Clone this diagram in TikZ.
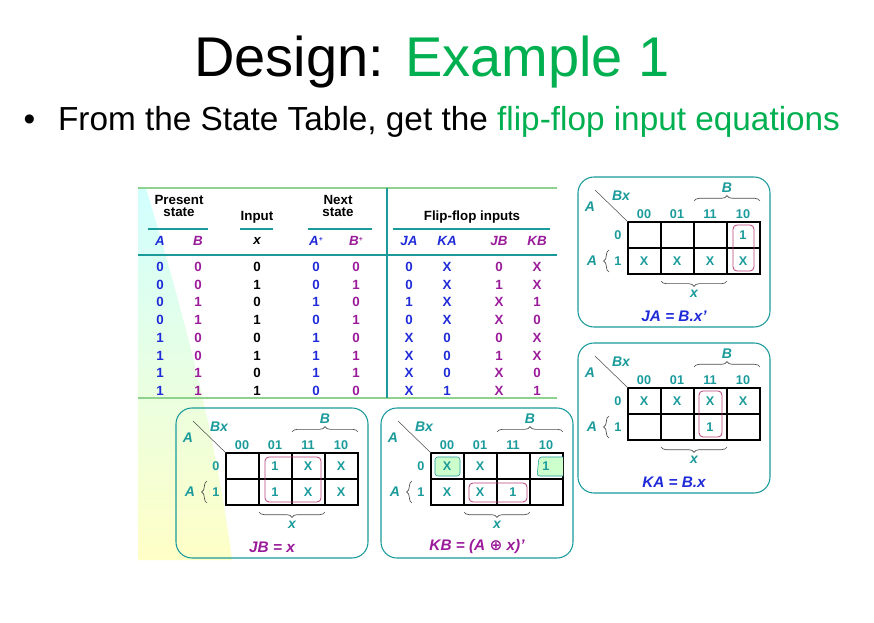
\documentclass[tikz,border=0pt]{standalone}
\usepackage{fontspec}
\setmainfont{Liberation Sans}
\newfontfamily\symfont{DejaVu Sans}
\usetikzlibrary{decorations.pathreplacing,positioning}
\definecolor{tealk}{HTML}{1A9A9A}
\definecolor{bluek}{HTML}{1F2AD8}
\definecolor{purk}{HTML}{9A1A9A}
\definecolor{loopk}{HTML}{B8407A}
\definecolor{greent}{HTML}{00B050}
\definecolor{lineg}{HTML}{8FD18F}
\tikzset{
  tb/.style={font=\fontsize{10}{11}\selectfont\bfseries, inner sep=0pt},
  km/.style={font=\fontsize{9.5}{11}\selectfont\bfseries, text=tealk, inner sep=0pt},
  kv/.style={km, font=\fontsize{10.5}{12}\selectfont\bfseries\itshape},
  kloop/.style={draw=loopk, rounded corners=3pt, line width=0.6pt},
  brc/.style={decorate, decoration={brace, amplitude=4pt}, draw=black!70, line width=0.5pt}
}
% frame, grid and labels of one K-map, in local coordinates
\newcommand\kmapframe{%
  \draw[tealk, line width=0.8pt, rounded corners=12pt] (0,0) rectangle (192,150);
  \draw[line width=0.9pt] (50,45) rectangle (182,97) (50,71) -- (182,71);
  \foreach \cx in {83,116,149} \draw[line width=0.9pt] (\cx,45) -- (\cx,97);
  \draw[black!70] (17,13) -- (50,45);
  \node[kv] at (43,19) {Bx};
  \node[kv] at (12,30) {A};
  \foreach \cx/\lb in {66/00,99/01,132/11,165/10} \node[km] at (\cx,37) {\lb};
  \node[km] at (40,58) {0};
  \node[km] at (40,84) {1};
  \draw[brc] (31,95) -- (31,73);
  \node[kv] at (14,84) {A};
  \draw[brc] (116,24) -- (182,24);
  \node[kv] at (149,11) {B};
  \draw[brc] (149,104) -- (83,104);
  \node[kv] at (116,117) {x};
}
\begin{document}
\begin{tikzpicture}[x=0.75pt,y=-0.75pt]
  \useasboundingbox (0,0) rectangle (874,623);
  % title
  \node (title) at (432,62) {\fontsize{42}{46}\selectfont Design: \textcolor{greent}{Example 1}};
  \node[anchor=west] (bul) at (19,122) {\fontsize{25}{28}\selectfont\textbullet\hspace{17pt}From the State Table, get the \textcolor{greent}{flip-flop input equations}};
  % background tint
  \shade[top color=cyan!18, bottom color=yellow!22] (138,188) -- (146,188) .. controls (185,320) and (215,430) .. (232,560) -- (138,560) -- cycle;
  % state table
  \draw[lineg, line width=1.2pt] (138,188) -- (557,188);
  \draw[lineg, line width=1.2pt] (138,398) -- (557,398);
  \draw[tealk, line width=1pt] (387,188) -- (387,398);
  \draw[tealk, line width=1pt] (138,255) -- (557,255);
  \foreach \xa/\xb in {148/208,240/273,308/372,393/550} \draw[tealk, line width=1pt] (\xa,229) -- (\xb,229);
  \node[tb] (hps) at (179,208) {\begin{tabular}{@{}c@{}}Present\\[-2pt]state\end{tabular}};
  \node[tb] (hin) at (257,217) {Input};
  \node[tb] (hns) at (338,208) {\begin{tabular}{@{}c@{}}Next\\[-2pt]state\end{tabular}};
  \node[tb] (hff) at (472,217) {Flip-flop inputs};
  \foreach \cx/\cl/\lb in {160/bluek/A,198/purk/B,257/black/x,316/bluek/A\raisebox{3pt}{\tiny+},356/purk/B\raisebox{3pt}{\tiny+},409/bluek/JA,447/bluek/KA,499/purk/JB,537/purk/KB}
    \node[tb, text=\cl, font=\fontsize{10}{11}\selectfont\bfseries\itshape] at (\cx,241) {\lb};
  \foreach \r/\a/\b/\x/\ap/\bp/\ja/\ka/\jb/\kb in {
      0/0/0/0/0/0/0/X/0/X, 1/0/0/1/0/1/0/X/1/X, 2/0/1/0/1/0/1/X/X/1, 3/0/1/1/0/1/0/X/X/0,
      4/1/0/0/1/0/X/0/0/X, 5/1/0/1/1/1/X/0/1/X, 6/1/1/0/1/1/X/0/X/0, 7/1/1/1/0/0/X/1/X/1} {
    \pgfmathsetmacro\ry{267+17.7*\r}
    \node[tb, text=bluek] at (160,\ry) {\a};
    \node[tb, text=purk] at (198,\ry) {\b};
    \node[tb] at (257,\ry) {\x};
    \node[tb, text=bluek] at (316,\ry) {\ap};
    \node[tb, text=purk] at (356,\ry) {\bp};
    \node[tb, text=bluek] at (409,\ry) {\ja};
    \node[tb, text=bluek] at (447,\ry) {\ka};
    \node[tb, text=purk] at (499,\ry) {\jb};
    \node[tb, text=purk] at (537,\ry) {\kb};
  }
  % JA map
  \begin{scope}[shift={(578,177)}]
    \kmapframe
    \draw[kloop] (155,48) rectangle (176,94);
    \foreach \c/\r/\v in {3/0/1,0/1/X,1/1/X,2/1/X,3/1/X} \node[km] at (66+33*\c,58+26*\r) {\v};
    \node[km, text=bluek, font=\fontsize{11.5}{13}\selectfont\bfseries\itshape] (eqja) at (96,139) {JA = B.x'};
  \end{scope}
  % KA map
  \begin{scope}[shift={(578,343)}]
    \kmapframe
    \draw[kloop] (121,48) rectangle (144,94);
    \foreach \c/\r/\v in {0/0/X,1/0/X,2/0/X,3/0/X,2/1/1} \node[km] at (66+33*\c,58+26*\r) {\v};
    \node[km, text=bluek, font=\fontsize{11.5}{13}\selectfont\bfseries\itshape] (eqka) at (96,139) {KA = B.x};
  \end{scope}
  % JB map
  \begin{scope}[shift={(176,408)}]
    \kmapframe
    \draw[kloop] (89,49) rectangle (145,94);
    \foreach \c/\r/\v in {1/0/1,2/0/X,3/0/X,1/1/1,2/1/X,3/1/X} \node[km] at (66+33*\c,58+26*\r) {\v};
    \node[km, text=purk, font=\fontsize{11.5}{13}\selectfont\bfseries\itshape] (eqjb) at (96,139) {JB = x};
  \end{scope}
  % KB map
  \begin{scope}[shift={(381,408)}]
    \kmapframe
    \draw[tealk, fill=green!20, rounded corners=2pt] (54,49) rectangle (79,68);
    \draw[tealk, fill=green!20, rounded corners=2pt] (182,49) -- (158,49) -- (156,68) -- (182,68);
    \draw[kloop] (88,75) rectangle (146,94);
    \foreach \c/\r/\v in {0/0/X,1/0/X,3/0/1,0/1/X,1/1/X,2/1/1} \node[km] at (66+33*\c,58+26*\r) {\v};
    \node[km, text=purk, font=\fontsize{11.5}{13}\selectfont\bfseries\itshape] (eqkb) at (96,139) {KB = (A {\symfont\upshape ⊕} x)'};
  \end{scope}
\end{tikzpicture}
\end{document}
